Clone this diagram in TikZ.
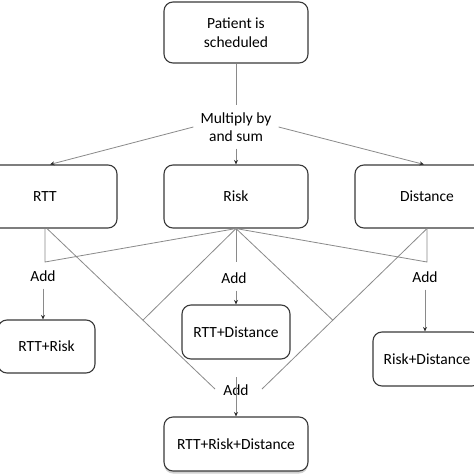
\documentclass[tikz,border=0pt]{standalone}
\usepackage{fontspec}
\setmainfont{Carlito}
\usetikzlibrary{arrows.meta,shadows,calc}
\definecolor{boxline}{HTML}{3A3A3A}
\definecolor{conn}{HTML}{8A8A8A}
\definecolor{tip}{HTML}{303030}
\begin{document}
\begin{tikzpicture}[x=1pt,y=-1pt,
  box/.style={draw=boxline,line width=1.1pt,rounded corners=9pt,fill=white,
    font=\fontsize{15.5}{19}\selectfont,align=center,inner sep=0pt},
  lbl/.style={font=\fontsize{15.5}{18}\selectfont,align=center},
  ln/.style={draw=conn,line width=0.8pt},
  arr/.style={draw=conn,line width=0.8pt,-{Stealth[length=4.5pt,width=4pt,color=tip]}}]
\clip (0,0) rectangle (474,474);
\fill[white] (0,0) rectangle (474,474);
% boxes
\node[box,minimum width=144pt,minimum height=61pt] (pat) at (236,32.5) {Patient is\\scheduled};
\node[lbl,inner sep=7pt] (mult) at (236,127) {Multiply by\\and sum};
\node[box,minimum width=144pt,minimum height=63pt] (rtt) at (45,196.5) {RTT};
\node[box,minimum width=144pt,minimum height=63pt] (risk) at (236,196.5) {Risk};
\node[box,minimum width=144pt,minimum height=63pt] (dist) at (427,196.5) {Distance};
\node[box,minimum width=97pt,minimum height=53pt] (rr) at (46.5,346.5) {RTT+Risk};
\node[box,minimum width=108pt,minimum height=54pt] (rd) at (236,332) {RTT+Distance};
\node[box,minimum width=108pt,minimum height=54pt] (rsd) at (427,359) {Risk+Distance};
\node[box,minimum width=144pt,minimum height=54pt,
  drop shadow={shadow xshift=0pt,shadow yshift=-2.5pt,fill=black!30,opacity=0.6}] (all) at (236,444) {RTT+Risk+Distance};
% Add labels
\node[lbl,inner sep=7pt] (addL) at (43,276) {Add};
\node[lbl,inner sep=7pt] (addC) at (234,278) {Add};
\node[lbl,inner sep=7pt] (addR) at (425,277) {Add};
\node[lbl,inner sep=7pt] (addB) at (236,390) {Add};
% coordinates
\coordinate (jL) at (45,262);
\coordinate (jR) at (427,262);
\coordinate (bL) at (215,389);
\coordinate (bR) at (262,389);
\coordinate (rttS) at ($(rtt.south)+(2,0)$);
\coordinate (mL) at ($(rttS)!0.571!(bL)$);
\coordinate (mR) at ($(dist.south)!0.571!(bR)$);
% top connectors
\draw[ln] (pat.south) -- (mult.north);
\draw[arr] (mult.west) -- ([xshift=5pt]rtt.north);
\draw[arr] (mult.east) -- ([xshift=-3pt]dist.north);
\draw[arr] (mult.south) -- (risk.north);
% pairs
\draw[ln] (rtt.south) -- (jL) -- (risk.south);
\draw[ln] (dist.south) -- (jR) -- (risk.south);
\draw[ln] (risk.south) -- (risk.south |- jL);
\draw[arr] (addL.south) -- (addL.south |- rr.north);
\draw[arr] (addC.south -| rd.north) -- (rd.north);
\draw[arr] (addR.south) -- (addR.south |- rsd.north);
% triple
\draw[ln] (rttS) -- (bL);
\draw[ln] (dist.south) -- (bR);
\draw[ln] (risk.south) -- (mL);
\draw[ln] (risk.south) -- (mR);
\draw[arr] (addB.north) -- (all.north);
\end{tikzpicture}
\end{document}
